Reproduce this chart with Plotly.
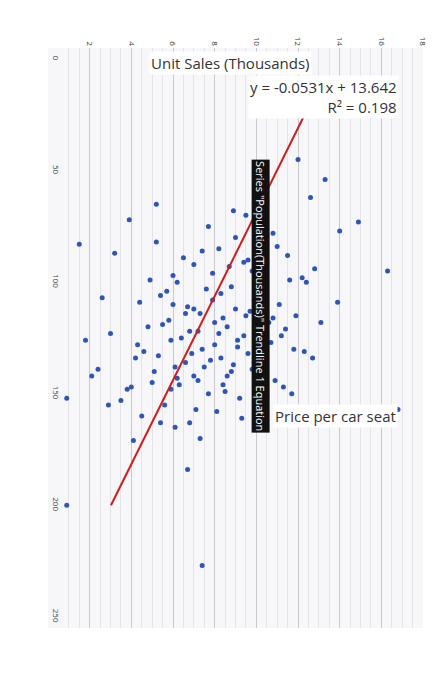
import plotly.graph_objects as go

# price per car seat (vertical axis, top to bottom) and unit sales (horizontal)
price = [23, 54, 73, 95, 109, 157, 184, 200, 227, 152, 45, 62, 70, 78, 85, 88, 92, 95, 98, 100,
         102, 104, 106, 108, 110, 112, 114, 116, 118, 120, 122, 124, 126, 128, 130, 132, 134, 136, 138, 140,
         142, 144, 146, 148, 150, 152, 155, 158, 160, 163, 166, 170, 82, 86, 90, 94, 97, 101, 105, 109,
         113, 117, 121, 125, 129, 133, 137, 141, 145, 149, 153, 157, 161, 165, 80, 84, 89, 93, 99, 103,
         107, 111, 115, 119, 123, 127, 131, 135, 139, 143, 147, 151, 96, 100, 104, 108, 112, 116, 120, 124,
         128, 132, 136, 140, 144, 148, 75, 79, 87, 91, 99, 107, 115, 123, 131, 139, 147, 155, 163, 171,
         65, 68, 72, 77, 83, 118, 126, 134, 142, 150, 110, 114, 118, 122, 126, 130, 134, 138, 142, 146]
sales = [10.4, 13.3, 14.9, 16.3, 13.9, 16.8, 6.7, 0.9, 7.4, 0.9, 12.0, 12.6, 9.5, 10.8, 8.2, 11.5, 7.0, 9.8, 12.2, 6.2,
         8.8, 10.3, 5.4, 7.9, 11.1, 9.0, 6.6, 8.4, 10.6, 4.8, 7.2, 9.4, 5.9, 8.0, 11.8, 6.9, 4.2, 9.9, 7.5, 5.1,
         8.6, 10.9, 6.3, 3.8, 7.7, 9.2, 5.6, 8.1, 4.5, 6.8, 10.2, 7.3, 5.2, 7.4, 9.6, 12.8, 6.0, 10.0, 8.3, 4.4,
         9.7, 5.8, 11.4, 6.4, 9.1, 5.3, 8.9, 10.4, 5.0, 8.5, 3.5, 7.1, 9.3, 6.1, 9.0, 11.0, 6.5, 8.7, 4.9, 7.6,
         10.1, 6.7, 9.5, 5.5, 8.2, 10.7, 4.6, 7.8, 9.8, 6.2, 4.0, 10.5, 7.9, 12.4, 5.7, 9.9, 7.0, 10.8, 8.6, 11.2,
         4.3, 9.6, 6.6, 8.8, 7.2, 5.9, 7.7, 10.5, 3.2, 9.4, 11.6, 2.6, 11.9, 3.0, 12.3, 2.4, 11.3, 2.9, 5.4, 4.1,
         5.2, 8.9, 3.9, 14.0, 1.5, 13.1, 1.8, 12.7, 2.1, 11.7, 6.0, 7.3, 8.0, 6.8, 9.1, 7.4, 8.3, 6.1, 7.0, 8.4]
slope, intercept = -0.0531, 13.642
line_price = [20, 200]
line_sales = [slope * p + intercept for p in line_price]

fig = go.Figure()
fig.add_trace(go.Scatter(x=sales, y=price, mode='markers',
                         marker=dict(color='#2f55b5', size=5)))
fig.add_trace(go.Scatter(x=line_sales, y=line_price, mode='lines',
                         line=dict(color='#d01c1c', width=2)))

fig.update_layout(
    width=441, height=700, showlegend=False,
    margin=dict(l=40, r=26, t=40, b=80),
    paper_bgcolor='#ffffff', plot_bgcolor='#f7f7f9',
    font=dict(family='Open Sans', color='#333'),
    xaxis=dict(range=[0, 18], dtick=2, side='top', tickangle=90, tickfont=dict(size=8),
               showgrid=True, gridcolor='#c9c9cf', minor=dict(dtick=0.5, showgrid=True, gridcolor='#e4e4e8'),
               zeroline=False, ticks=''),
    yaxis=dict(range=[255, -5], tickvals=[0, 50, 100, 150, 200, 250], tickangle=90,
               tickfont=dict(size=8), ticklabelposition='inside', showgrid=False, zeroline=False),
    annotations=[
        dict(text='Unit Sales (Thousands)', x=0.27, y=0.995, xref='paper', yref='paper',
             yanchor='top', showarrow=False, font=dict(size=15), bgcolor='#ffffff'),
        dict(text='y = -0.0531x + 13.642<br>R² = 0.198', x=13.2, y=17, showarrow=False,
             font=dict(size=15), align='right', bgcolor='#ffffff'),
        dict(text='Series "Population(Thousands)" Trendline 1 Equation', x=10.2, y=106,
             textangle=90, showarrow=False, font=dict(size=11, color='#ffffff'),
             bgcolor='#111111'),
        dict(text='Price per car seat', x=13.8, y=160, showarrow=False, font=dict(size=15),
             bgcolor='#ffffff'),
    ],
)
fig.write_html("out.html")
